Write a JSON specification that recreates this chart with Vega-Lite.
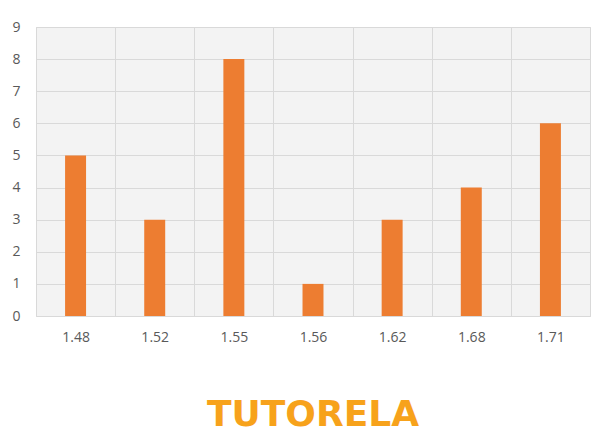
{
  "$schema": "https://vega.github.io/schema/vega-lite/v6.json",
  "autosize": "none",
  "width": 554,
  "height": 289,
  "padding": {"left": 36, "top": 27, "right": 18, "bottom": 123},
  "background": "white",
  "title": {
    "text": "TUTORELA",
    "orient": "bottom",
    "anchor": "middle",
    "offset": 54,
    "font": "DejaVu Sans",
    "fontSize": 36,
    "fontWeight": "bold",
    "color": "#f7a21b"
  },
  "data": {
    "values": [
      {"height": "1.48", "count": 5},
      {"height": "1.52", "count": 3},
      {"height": "1.55", "count": 8},
      {"height": "1.56", "count": 1},
      {"height": "1.62", "count": 3},
      {"height": "1.68", "count": 4},
      {"height": "1.71", "count": 6}
    ]
  },
  "mark": {"type": "bar", "color": "#ed7d31", "width": {"band": 0.265}},
  "encoding": {
    "x": {
      "field": "height",
      "type": "nominal",
      "sort": null,
      "scale": {"paddingInner": 0, "paddingOuter": 0},
      "axis": {
        "title": null,
        "labelAngle": 0,
        "tickBand": "extent",
        "grid": true,
        "ticks": false,
        "domain": false,
        "labelPadding": 14
      }
    },
    "y": {
      "field": "count",
      "type": "quantitative",
      "scale": {"domain": [0, 9]},
      "axis": {
        "title": null,
        "values": [0, 1, 2, 3, 4, 5, 6, 7, 8, 9],
        "ticks": false,
        "domain": false,
        "labelPadding": 16
      }
    }
  },
  "config": {
    "view": {"stroke": "#d9d9d9", "fill": "#f3f3f3"},
    "axis": {
      "gridColor": "#d9d9d9",
      "gridWidth": 1,
      "labelFont": "Open Sans",
      "labelFontSize": 14,
      "labelColor": "#595959"
    }
  }
}
